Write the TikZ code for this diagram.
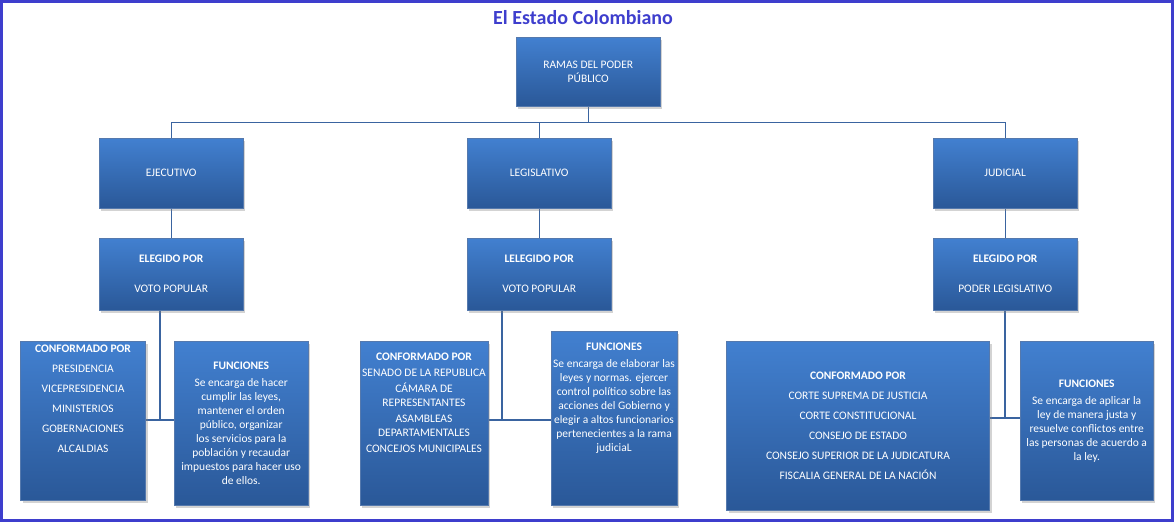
\documentclass[tikz,border=0pt]{standalone}
\usepackage{fontspec}
\setmainfont{Carlito}
\usetikzlibrary{positioning, shadows, calc, backgrounds}

\definecolor{boxtop}{RGB}{66,128,208}
\definecolor{boxbot}{RGB}{42,88,152}
\definecolor{frameblue}{RGB}{62,62,205}
\definecolor{linkblue}{RGB}{58,100,160}

\begin{document}
\begin{tikzpicture}[
  x=1pt, y=-1pt,
  box/.style={
    rectangle,
    top color=boxtop,
    bottom color=boxbot,
    draw=boxbot!80,
    text=white,
    align=center,
    font=\fontsize{11.5}{20}\selectfont,
    drop shadow={shadow xshift=2pt, shadow yshift=-3pt, opacity=0.35},
    anchor=north west,
    inner sep=2pt
  },
  link/.style={
    draw=linkblue,
    line width=1.4pt
  }
]

% Frame
\draw[frameblue, line width=3pt] (1.5,1.5) rectangle (1172.5,520.5);
\useasboundingbox (0,0) rectangle (1174,522);

\node[text=frameblue, font=\bfseries\fontsize{20}{22}\selectfont] (title) at (583,18) {El Estado Colombiano};

% Nodes
\node[box, minimum width=144pt, minimum height=69pt] (ramas) at (516,37) {RAMAS DEL PODER\\[-6pt]PÚBLICO};

\node[box, minimum width=144pt, minimum height=70pt] (ejec) at (99,138) {EJECUTIVO};
\node[box, minimum width=144pt, minimum height=70pt] (legis) at (467,138) {LEGISLATIVO};
\node[box, minimum width=144pt, minimum height=70pt] (judic) at (933,138) {JUDICIAL};

\node[box, minimum width=144pt, minimum height=72pt] (elejec) at (99,238) {\textbf{ELEGIDO POR}\\[10pt]VOTO POPULAR};
\node[box, minimum width=144pt, minimum height=72pt] (ellegis) at (467,238) {\textbf{LELEGIDO POR}\\[10pt]VOTO POPULAR};
\node[box, minimum width=144pt, minimum height=72pt] (eljudic) at (933,238) {\textbf{ELEGIDO POR}\\[10pt]PODER LEGISLATIVO};

\node[box, minimum width=125pt, minimum height=159pt, anchor=north] (confejec) at (83,341) {\textbf{CONFORMADO POR}\\PRESIDENCIA\\VICEPRESIDENCIA\\MINISTERIOS\\GOBERNACIONES\\ALCALDIAS\\[24pt]};
\node[box, minimum width=134pt, minimum height=164pt, font=\fontsize{11.5}{14}\selectfont] (funcejec) at (174,341) {\textbf{FUNCIONES}\\[3pt]Se encarga de hacer\\cumplir las leyes,\\mantener el orden\\público, organizar\\los servicios para la\\población y recaudar\\impuestos para hacer uso\\de ellos.};
\node[box, minimum width=128pt, minimum height=164pt, anchor=north] (conflegis) at (424,341) {\textbf{CONFORMADO POR}\\[-4pt]SENADO DE LA REPUBLICA\\[-4pt]{\fontsize{11.5}{12}\selectfont CÁMARA DE}\\[-6pt]REPRESENTANTES\\[-4pt]{\fontsize{11.5}{12}\selectfont ASAMBLEAS}\\[-6pt]DEPARTAMENTALES\\[-4pt]CONCEJOS MUNICIPALES\\[20pt]};
\node[box, minimum width=118pt, minimum height=174pt, font=\fontsize{11.5}{14}\selectfont] (funclegis) at (551,331) {\textbf{FUNCIONES}\\[3pt]Se encarga de elaborar las\\leyes y normas. ejercer\\control político sobre las\\acciones del Gobierno y\\elegir a altos funcionarios\\pertenecientes  a la rama\\judiciaL\\[28pt]};
\node[box, minimum width=263pt, minimum height=169pt, anchor=north] (confjudic) at (858,341) {\textbf{CONFORMADO POR}\\CORTE SUPREMA DE JUSTICIA\\CORTE CONSTITUCIONAL\\CONSEJO DE ESTADO\\CONSEJO SUPERIOR DE LA JUDICATURA\\FISCALIA GENERAL DE LA NACIÓN};
\node[box, minimum width=133pt, minimum height=159pt, font=\fontsize{11.5}{14}\selectfont] (funcjudic) at (1020,341) {\textbf{FUNCIONES}\\[3pt]Se encarga de aplicar la\\ley de manera justa y\\resuelve conflictos entre\\las personas de acuerdo a\\la ley.};

% Connecting lines
\begin{scope}[on background layer]
\coordinate (bus) at ($(ramas.south)+(0,16)$);
\draw[link] (ramas.south) -- (bus);
\draw[link] (ejec.north) |- (bus) -| (judic.north);
\draw[link] (legis.north) |- (bus);
\draw[link] (ejec) -- (elejec);
\draw[link] (legis) -- (ellegis);
\draw[link] (judic) -- (eljudic);

\coordinate (jejec) at (160,420);
\coordinate (jlegis) at (502,420);
\coordinate (jjudic) at (1005,418);
\draw[link] (jejec |- elejec.south) -- (jejec);
\draw[link] (confejec.east |- jejec) -- (funcejec.west |- jejec);
\draw[link] (jlegis |- ellegis.south) -- (jlegis);
\draw[link] (conflegis.east |- jlegis) -- (funclegis.west |- jlegis);
\draw[link] (jjudic |- eljudic.south) -- (jjudic);
\draw[link] (confjudic.east |- jjudic) -- (funcjudic.west |- jjudic);
\end{scope}

\end{tikzpicture}
\end{document}
